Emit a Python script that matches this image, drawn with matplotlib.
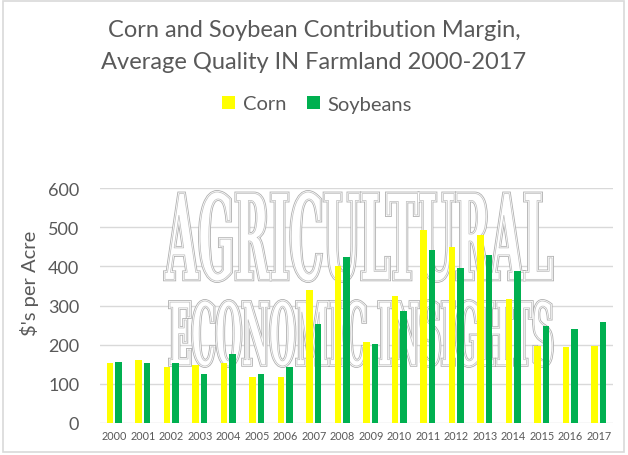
import numpy as np
import matplotlib
matplotlib.use("Agg")
import matplotlib.pyplot as plt
import matplotlib.transforms as mtransforms
import matplotlib.patheffects as pe
from matplotlib.textpath import TextPath
from matplotlib.patches import PathPatch, Rectangle
from matplotlib.font_manager import FontProperties

years = [str(y) for y in range(2000, 2018)]
corn = [152, 160, 143, 148, 153, 118, 117, 340, 402, 206,
        323, 493, 450, 480, 317, 196, 194, 196]
soybeans = [155, 154, 152, 126, 176, 125, 143, 253, 423, 201,
            285, 441, 397, 429, 387, 247, 240, 259]

W, H = 628, 456
plt.rcParams['font.family'] = ['Lato', 'DejaVu Sans']
txt = '#595959'
grid = '#D9D9D9'

fig = plt.figure(figsize=(W / 100, H / 100), dpi=100)
ax = fig.add_axes([100 / W, 32 / H, 513 / W, 235 / H])

x = np.arange(len(years))
bw = 0.235
ax.bar(x - 0.147, corn, bw, color='#FFFF00', zorder=2, label='Corn')
ax.bar(x + 0.147, soybeans, bw, color='#00B050', zorder=2, label='Soybeans')

ax.set_xlim(-0.5, len(years) - 0.5)
ax.set_ylim(0, 600)
ax.set_yticks(range(0, 601, 100))
ax.set_xticks(x)
ax.set_xticklabels(years, fontsize=7.8, color=txt)
ax.tick_params(axis='y', labelsize=13, colors=txt, length=0, pad=15)
ax.tick_params(axis='x', length=0, pad=5)
ax.yaxis.grid(True, color=grid, linewidth=1)
ax.set_axisbelow(True)
for s in ax.spines.values():
    s.set_visible(False)
ax.set_ylabel("$'s per Acre", fontsize=14.5, color=txt)
ax.yaxis.set_label_coords(-0.118, 0.6)

# watermark, stretched into its box (pixel coords, top origin)
def mark(s, x0, y0, x1, y1):
    tp = TextPath((0, 0), s, size=100,
                  prop=FontProperties(family='DejaVu Serif', weight='bold'))
    e = tp.get_extents()
    tr = (mtransforms.Affine2D()
          .translate(-e.x0, -e.y0)
          .scale((x1 - x0) / e.width / W, (y1 - y0) / e.height / H)
          .translate(x0 / W, (H - y1) / H))
    p = PathPatch(tp, facecolor='white', edgecolor='#BBBBBB', lw=0.5,
                  transform=tr + fig.transFigure, zorder=1, clip_on=False)
    p.set_path_effects([pe.Stroke(linewidth=2.8, foreground='#AFAFAF'),
                        pe.Stroke(linewidth=1.6, foreground='white'),
                        pe.Normal()])
    ax.add_patch(p)

mark('AGRICULTURAL', 165, 193, 552, 282)
mark('ECONOMIC INSIGHTS', 170, 302, 552, 367)

fig.text(314, H - 37, 'Corn and Soybean Contribution Margin,', transform=None,
         fontsize=17, color=txt, ha='center')
fig.text(314, H - 69, 'Average Quality IN Farmland 2000-2017', transform=None,
         fontsize=17, color=txt, ha='center')
fig.legend(loc='center', bbox_to_anchor=(317 / W, (H - 105) / H), ncol=2,
           frameon=False, fontsize=14.5, handlelength=0.65, handleheight=0.65,
           handletextpad=0.4, columnspacing=1.0, labelcolor=txt)

fig.add_artist(Rectangle((0.004, 0.006), 0.99, 0.99, transform=fig.transFigure,
                         fill=False, edgecolor=grid, lw=1.2))

fig.savefig('out.png', dpi=100)
